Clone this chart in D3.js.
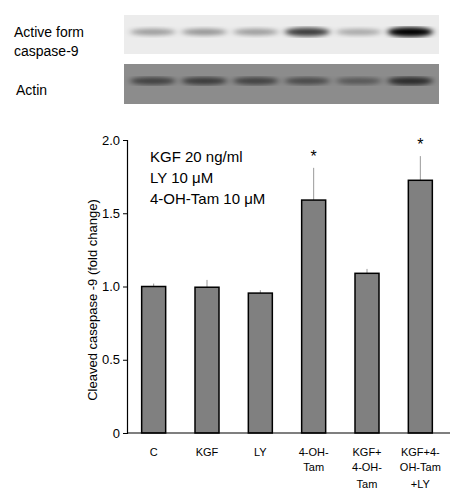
<!DOCTYPE html>
<html><head><meta charset="utf-8">
<script src="https://cdn.jsdelivr.net/npm/d3@7"></script>
<style>body{margin:0;background:#fff}text{font-family:"Liberation Sans",Arial,sans-serif}</style>
</head><body><svg id="c" width="474" height="495"></svg>
<script>
// chart data
var groups = ["C", "KGF", "LY", "4-OH-Tam", "KGF+4-OH-Tam", "KGF+4-OH-Tam+LY"];
var groupLines = [["C"], ["KGF"], ["LY"], ["4-OH-", "Tam"], ["KGF+", "4-OH-", "Tam"], ["KGF+4-", "OH-Tam", "+LY"]];
var foldChange = [1.0, 0.995, 0.955, 1.59, 1.09, 1.725];
var errUpper = [0.02, 0.05, 0.02, 0.22, 0.03, 0.165];
var signif = [false, false, false, true, false, true];
var yTicks = [0, 0.5, 1.0, 1.5, 2.0];
var yTickLabels = ["0", "0.5", "1.0", "1.5", "2.0"];
// blot band darkness (0..1)
var caspBand = [0.35, 0.38, 0.35, 0.75, 0.3, 1.0];
var actinBand = [0.55, 0.6, 0.55, 0.5, 0.4, 0.7];

var svg = d3.select("#c");
var defs = svg.append("defs");
defs.append("filter").attr("id", "blur").append("feGaussianBlur").attr("stdDeviation", "3 2");

var x = d3.scaleBand().domain(groups).range([127, 447]).paddingInner(0.55).paddingOuter(0.275);
var y = d3.scaleLinear().domain([0, 2]).range([433, 140]);

// western blot panels
var laneX = d3.scaleBand().domain(groups).range([124, 439]).padding(0.12);
function blot(y0, h, bg, vals, bandY, bandH) {
  svg.append("rect").attr("x", 124).attr("y", y0).attr("width", 315).attr("height", h).attr("fill", bg);
  svg.append("g").attr("filter", "url(#blur)").selectAll("ellipse").data(vals).enter().append("ellipse")
    .attr("cx", function(d, i) { return laneX(groups[i]) + laneX.bandwidth() / 2; })
    .attr("cy", bandY)
    .attr("rx", laneX.bandwidth() / 2)
    .attr("ry", function(d) { return bandH * (0.6 + d * 0.6); })
    .attr("fill", "#000").attr("opacity", function(d) { return d; });
}
blot(15, 39, "#ececec", caspBand, 32, 4);
blot(64, 40, "#8c8c8c", actinBand, 81, 4);
svg.append("text").attr("x", 14).attr("y", 37).attr("font-size", 14).text("Active form");
svg.append("text").attr("x", 14).attr("y", 56).attr("font-size", 14).text("caspase-9");
svg.append("text").attr("x", 16).attr("y", 95).attr("font-size", 14).text("Actin");

// error bars (upper only)
svg.selectAll(".err").data(groups).enter().append("line")
  .attr("x1", function(d) { return x(d) + x.bandwidth() / 2; })
  .attr("x2", function(d) { return x(d) + x.bandwidth() / 2; })
  .attr("y1", function(d, i) { return y(foldChange[i]); })
  .attr("y2", function(d, i) { return y(foldChange[i] + errUpper[i]); })
  .attr("stroke", "#999").attr("stroke-width", 1);

svg.selectAll(".bar").data(groups).enter().append("rect")
  .attr("x", function(d) { return x(d); })
  .attr("width", x.bandwidth())
  .attr("y", function(d, i) { return y(foldChange[i]); })
  .attr("height", function(d, i) { return y(0) - y(foldChange[i]); })
  .attr("fill", "#808080").attr("stroke", "#000").attr("stroke-width", 1.5);

svg.selectAll(".star").data(groups).enter().filter(function(d, i) { return signif[i]; })
  .append("text")
  .attr("x", function(d) { return x(d) + x.bandwidth() / 2; })
  .attr("y", function(d) { var i = groups.indexOf(d); return y(foldChange[i] + errUpper[i]) - 6; })
  .attr("text-anchor", "middle").attr("font-size", 16).text("*");

// axes
var yAxis = svg.append("g").attr("transform", "translate(127,0)")
  .call(d3.axisLeft(y).tickValues(yTicks).tickFormat(function(d, i) { return yTickLabels[i]; }).tickSize(4));
yAxis.select(".domain").attr("stroke-width", 1.2);
yAxis.selectAll("text").attr("font-size", 13).attr("fill", "#000").attr("font-family", "Liberation Sans,Arial");
svg.append("line").attr("x1", 127).attr("x2", 450).attr("y1", 433).attr("y2", 433).attr("stroke", "#000").attr("stroke-width", 1.2);

svg.selectAll(".xl").data(groups).enter().append("text")
  .attr("text-anchor", "middle").attr("font-size", 11)
  .attr("transform", function(d) { return "translate(" + (x(d) + x.bandwidth() / 2) + ",0)"; })
  .each(function(d, i) {
    var t = d3.select(this);
    groupLines[i].forEach(function(s, j) {
      t.append("tspan").attr("x", 0).attr("y", 456 + j * 15 + (j == 2 ? 2 : 0)).text(s);
    });
  });

svg.append("text").attr("transform", "translate(97,300) rotate(-90)").attr("text-anchor", "middle")
  .attr("font-size", 13).text("Cleaved casepase -9 (fold change)");

var note = ["KGF 20 ng/ml", "LY 10 \u03bcM", "4-OH-Tam 10 \u03bcM"];
svg.selectAll(".note").data(note).enter().append("text")
  .attr("x", 150).attr("y", function(d, i) { return 162 + i * 21; })
  .attr("font-size", 15).text(function(d) { return d; });
</script></body></html>
